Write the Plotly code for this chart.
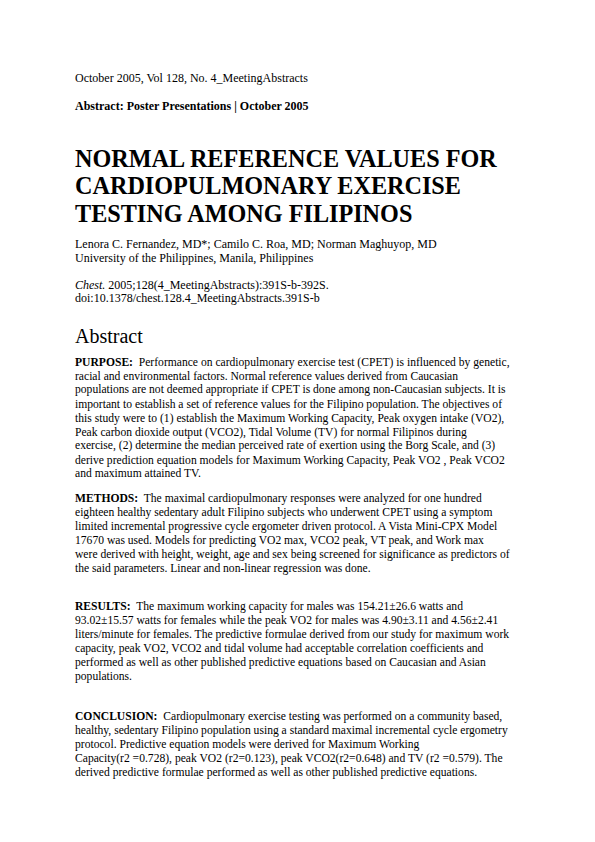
import plotly.graph_objects as go

W, H = 595, 842
LEFT = 65
SHIFT = 8  # page margin offset of the browser window

# page text, one entry per printed line: (y pixel, text, size)
header_lines = [
    (78, "October 2005, Vol 128, No. 4_MeetingAbstracts", 12),
    (106, "<b>Abstract: Poster Presentations | October 2005</b>", 12),
]
title_lines = [
    "NORMAL REFERENCE VALUES FOR",
    "CARDIOPULMONARY EXERCISE",
    "TESTING AMONG FILIPINOS",
]
author_lines = [
    "Lenora C. Fernandez, MD*; Camilo C. Roa, MD; Norman Maghuyop, MD",
    "University of the Philippines, Manila, Philippines",
    "",
    "<i>Chest.</i> 2005;128(4_MeetingAbstracts):391S-b-392S.",
    "doi:10.1378/chest.128.4_MeetingAbstracts.391S-b",
]
purpose = [
    "<b>PURPOSE:</b>  Performance on cardiopulmonary exercise test (CPET) is influenced by genetic,",
    "racial and environmental factors. Normal reference values derived from Caucasian",
    "populations are not deemed appropriate if CPET is done among non-Caucasian subjects. It is",
    "important to establish a set of reference values for the Filipino population. The objectives of",
    "this study were to (1) establish the Maximum Working Capacity, Peak oxygen intake (VO2),",
    "Peak carbon dioxide output (VCO2), Tidal Volume (TV) for normal Filipinos during",
    "exercise, (2) determine the median perceived rate of exertion using the Borg Scale, and (3)",
    "derive prediction equation models for Maximum Working Capacity, Peak VO2 , Peak VCO2",
    "and maximum attained TV.",
]
methods = [
    "<b>METHODS:</b>  The maximal cardiopulmonary responses were analyzed for one hundred",
    "eighteen healthy sedentary adult Filipino subjects who underwent CPET using a symptom",
    "limited incremental progressive cycle ergometer driven protocol. A Vista Mini-CPX Model",
    "17670 was used. Models for predicting VO2 max, VCO2 peak, VT peak, and Work max",
    "were derived with height, weight, age and sex being screened for significance as predictors of",
    "the said parameters. Linear and non-linear regression was done.",
]
results = [
    "<b>RESULTS:</b>  The maximum working capacity for males was 154.21±26.6 watts and",
    "93.02±15.57 watts for females while the peak VO2 for males was 4.90±3.11 and 4.56±2.41",
    "liters/minute for females. The predictive formulae derived from our study for maximum work",
    "capacity, peak VO2, VCO2 and tidal volume had acceptable correlation coefficients and",
    "performed as well as other published predictive equations based on Caucasian and Asian",
    "populations.",
]
conclusion = [
    "<b>CONCLUSION:</b>  Cardiopulmonary exercise testing was performed on a community based,",
    "healthy, sedentary Filipino population using a standard maximal incremental cycle ergometry",
    "protocol. Predictive equation models were derived for Maximum Working",
    "Capacity(r2 =0.728), peak VO2 (r2=0.123), peak VCO2(r2=0.648) and TV (r2 =0.579). The",
    "derived predictive formulae performed as well as other published predictive equations.",
]

FONT = "Liberation Serif"
fig = go.Figure()
ann = []


def add(y, text, size, color="black"):
    ann.append(dict(x=LEFT / W, y=1 - (y - SHIFT) / H, xref="paper", yref="paper",
                    xanchor="left", yanchor="middle", showarrow=False,
                    text=text, font=dict(family=FONT, size=size, color=color)))


for y, t, s in header_lines:
    add(y, t, s)
for i, t in enumerate(title_lines):
    add(158 + i * 27.5, "<b>" + t + "</b>", 24.2)
for i, t in enumerate(author_lines):
    if t:
        add(244 + i * 13.5, t, 12)
add(336, "Abstract", 20)

for start, block in [(362, purpose), (498, methods), (606, results), (716, conclusion)]:
    for i, t in enumerate(block):
        add(start + i * 14, t, 11.6)

fig.update_layout(width=W, height=H, margin=dict(l=0, r=0, t=0, b=0),
                  paper_bgcolor="white", plot_bgcolor="white",
                  xaxis=dict(visible=False), yaxis=dict(visible=False),
                  annotations=ann, showlegend=False)
fig.write_html("out.html")
